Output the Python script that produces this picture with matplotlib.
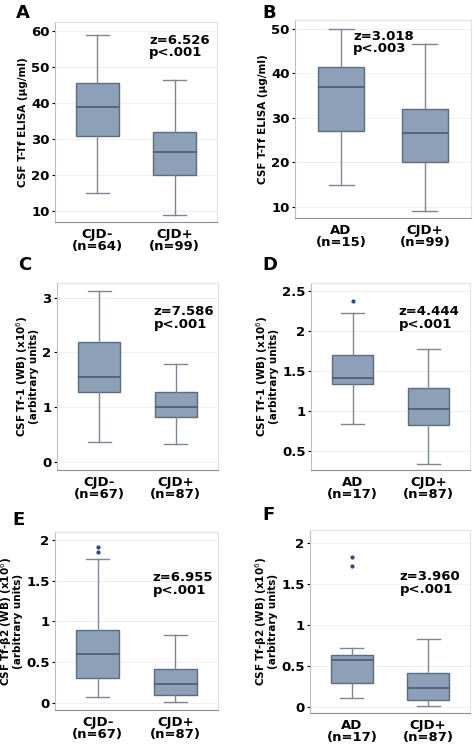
import matplotlib
matplotlib.use("Agg")
import matplotlib.pyplot as plt

# per panel: [whislo, q1, med, q3, whishi] for the two groups
A_stats = [[15, 31, 39, 45.5, 59], [9, 20, 26.5, 32, 46.5]]
B_stats = [[15, 27, 37, 41.5, 50], [9, 20, 26.5, 32, 46.5]]
C_stats = [[0.37, 1.27, 1.55, 2.2, 3.12], [0.32, 0.82, 1.01, 1.27, 1.78]]
D_stats = [[0.84, 1.34, 1.41, 1.7, 2.23], [0.33, 0.82, 1.02, 1.28, 1.78]]
E_stats = [[0.07, 0.3, 0.6, 0.9, 1.77], [0.01, 0.09, 0.23, 0.42, 0.83]]
F_stats = [[0.11, 0.29, 0.58, 0.64, 0.72], [0.01, 0.09, 0.24, 0.42, 0.83]]
D_fliers = [[2.38], []]
E_fliers = [[1.85, 1.92], []]
F_fliers = [[1.72, 1.83], []]
no_fliers = [[], []]

lab_neg = ["CJD-\n(n=64)", "CJD+\n(n=99)"]
lab_ad15 = ["AD\n(n=15)", "CJD+\n(n=99)"]
lab_neg67 = ["CJD-\n(n=67)", "CJD+\n(n=87)"]
lab_ad17 = ["AD\n(n=17)", "CJD+\n(n=87)"]

ylab_elisa = "CSF T-Tf ELISA (\u03bcg/ml)"
ylab_tf1 = "CSF Tf-1 (WB) (x10$^6$)\n(arbitrary units)"
ylab_tfb2 = "CSF Tf-\u03b22 (WB) (x10$^6$)\n(arbitrary units)"

W, H = 474, 747
panels = [
    # letter, letter pos px, rect px (l, t, r, b), stats, fliers, labels, ylabel, ylim, yticks, text, text pos (axes)
    ("A", (16, 13), (55, 22, 217, 222), A_stats, no_fliers, lab_neg, ylab_elisa, (7, 62.5), [10, 20, 30, 40, 50, 60], "z=6.526\np<.001", (0.58, 0.94)),
    ("B", (262, 13), (295, 20, 471, 218), B_stats, no_fliers, lab_ad15, ylab_elisa, (7.5, 52), [10, 20, 30, 40, 50], "z=3.018\np<.003", (0.33, 0.95)),
    ("C", (18, 265), (57, 283, 218, 470), C_stats, no_fliers, lab_neg67, ylab_tf1, (-0.15, 3.27), [0, 1, 2, 3], "z=7.586\np<.001", (0.6, 0.88)),
    ("D", (262, 265), (311, 283, 470, 470), D_stats, D_fliers, lab_ad17, ylab_tf1, (0.26, 2.6), [0.5, 1, 1.5, 2, 2.5], "z=4.444\np<.001", (0.55, 0.88)),
    ("E", (12, 520), (55, 532, 218, 710), E_stats, E_fliers, lab_neg67, ylab_tfb2, (-0.09, 2.1), [0, 0.5, 1, 1.5, 2], "z=6.955\np<.001", (0.6, 0.78)),
    ("F", (262, 515), (310, 530, 470, 713), F_stats, F_fliers, lab_ad17, ylab_tfb2, (-0.07, 2.16), [0, 0.5, 1, 1.5, 2], "z=3.960\np<.001", (0.56, 0.78)),
]

fig = plt.figure(figsize=(W / 100, H / 100), dpi=100)
box_face = "#8ca0b8"
box_edge = "#5b6b80"
wh_col = "#7d8794"

for letter, (lx, ly), (l, t, r, b), stats, fliers, labels, ylabel, ylim, yticks, txt, tpos in panels:
    ax = fig.add_axes([l / W, 1 - b / H, (r - l) / W, (b - t) / H])
    bxp_stats = []
    for s, fl in zip(stats, fliers):
        bxp_stats.append({"whislo": s[0], "q1": s[1], "med": s[2], "q3": s[3],
                          "whishi": s[4], "fliers": fl})
    ax.bxp(bxp_stats, positions=[1, 2], widths=0.55, patch_artist=True,
           boxprops=dict(facecolor=box_face, edgecolor=box_edge, linewidth=1),
           medianprops=dict(color="#4a5a70", linewidth=1.2),
           whiskerprops=dict(color=wh_col, linewidth=1),
           capprops=dict(color=wh_col, linewidth=1),
           capwidths=0.3,
           flierprops=dict(marker="o", markersize=2, markerfacecolor="#2a4a80",
                           markeredgecolor="#2a4a80"))
    ax.set_xlim(0.45, 2.55)
    ax.set_ylim(*ylim)
    ax.set_yticks(yticks)
    ax.set_yticklabels([f"{v:g}" for v in yticks])
    ax.set_xticks([1, 2])
    ax.set_xticklabels(labels, fontsize=9.5, fontweight="bold", linespacing=0.95)
    ax.tick_params(axis="y", labelsize=9.5, length=2, pad=2)
    ax.tick_params(axis="x", length=0, pad=4)
    for lab in ax.get_yticklabels():
        lab.set_fontweight("bold")
    ax.grid(axis="y", color="#eef0f2", linewidth=0.8)
    ax.set_axisbelow(True)
    for side in ["top", "right"]:
        ax.spines[side].set_color("#dde3e6")
    ax.spines["left"].set_color("#b8c0c4")
    ax.spines["bottom"].set_color("#8a9096")
    ax.set_ylabel(ylabel, fontsize=7.5, fontweight="bold", linespacing=0.95, labelpad=2)
    ax.text(tpos[0], tpos[1], txt, transform=ax.transAxes, fontsize=9.5,
            fontweight="bold", va="top", ha="left", linespacing=0.95)
    fig.text(lx / W, 1 - ly / H, letter, fontsize=13,
             fontweight="bold", va="center", ha="left")

fig.savefig("out.png", dpi=100)
